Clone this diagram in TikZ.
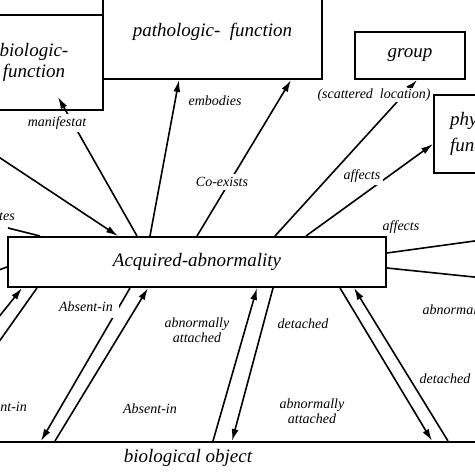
\documentclass[tikz,border=0pt]{standalone}
\usepackage{fontspec}
\setmainfont{Liberation Serif}
\usetikzlibrary{arrows.meta}

\begin{document}
\begin{tikzpicture}[
  x=0.5pt, y=-0.5pt,
  line width=0.8pt,
  box/.style={draw,rectangle,line width=1pt,inner sep=0pt,align=center,
    font=\fontsize{9.5}{10.5}\selectfont\itshape},
  boxtxt/.style={inner sep=0pt,font=\fontsize{9.5}{10.5}\selectfont\itshape},
  lbl/.style={fill=white,inner sep=1.5pt,align=center,
    font=\fontsize{7}{7.5}\selectfont\itshape},
  rel/.style={-{Latex[length=6pt,width=3.5pt]}},
]
\useasboundingbox (0,0) rectangle (474,474);

% ---------- boxes ----------
\node[box,minimum width=69pt,minimum height=27.5pt] (upper) at (34,-12.5) {};
\node[box,minimum width=69pt,minimum height=47.5pt] (bio) at (34,62.5) {biologic-\\function};
\node[box,minimum width=109.5pt,minimum height=47pt] (patho) at (212.5,32) {pathologic-\enspace function};
\node[box,minimum width=55pt,minimum height=23.5pt] (group) at (410,55.5) {group};
\node[box,minimum width=63pt,minimum height=39pt,align=left] (phys) at (497,134) {physiologic-\\[2.5pt]function};
\node[box,minimum width=189pt,minimum height=25pt] (main) at (197,262) {Acquired-abnormality};
\node[box,minimum width=270pt,minimum height=30pt] (obj) at (237,472) {};
\node[boxtxt] (objtxt) at (188,458) {biological object};

% ---------- end points ----------
\coordinate (inA) at (-30,138);
\coordinate (inB) at (8,228);
\coordinate (inC) at (-20,277);
\coordinate (outA) at (500,237.5);
\coordinate (outB) at (500,279.7);
\coordinate (outC) at (-20,340.5);
\coordinate (outD) at (-20,368.6);
\coordinate (mf) at (58,97);

% ---------- into the top of the box ----------
\draw[rel] (inA) -- (118,0 |- main.north);
\draw (inB) -- (40,0 |- main.north);
\draw (inC) -- (0,267 -| main.west);
\draw[rel] (137,0 |- main.north) -- (mf);
\draw[rel] (150,0 |- main.north) -- (179,0 |- patho.south);
\draw[rel] (197,0 |- main.north) -- (291,0 |- patho.south);
\draw[rel] (275,0 |- main.north) -- (417,0 |- group.south);
\draw[rel] (306,0 |- main.north) -- (0,144 -| phys.west);

% ---------- to the right ----------
\draw (0,253 -| main.east) -- (outA);
\draw (0,268 -| main.east) -- (outB);

% ---------- down to the object ----------
\draw[rel] (outC) -- (22,0 |- main.south);
\draw (37,0 |- main.south) -- (outD);
\draw[rel] (130,0 |- main.south) -- (41,0 |- obj.north);
\draw[rel] (55,0 |- obj.north) -- (148,0 |- main.south);
\draw[rel] (213,0 |- obj.north) -- (257,0 |- main.south);
\draw[rel] (273,0 |- main.south) -- (232,0 |- obj.north);
\draw[rel] (340,0 |- main.south) -- (432,0 |- obj.north);
\draw[rel] (448,0 |- obj.north) -- (354,0 |- main.south);

% ---------- labels ----------
\node[lbl] (lTes) at (7,217) {tes};
\node[lbl] (lMan) at (57,123) {manifestat};
\node[lbl] (lEmb) at (215,101) {embodies};
\node[lbl] (lCoe) at (222,182) {Co-exists};
\node[lbl,inner sep=0.5pt] (lSca) at (374,95) {(scattered\enspace location)};
\node[lbl] (lAf1) at (362,176) {affects};
\node[lbl] (lAf2) at (401,227) {affects};
\node[lbl] (lAb1) at (0,407) {Absent-in};
\node[lbl,inner sep=3pt] (lAb2) at (86,307) {Absent-in};
\node[lbl] (lAb3) at (150,409) {Absent-in};
\node[lbl] (lAt1) at (197,330) {abnormally\\attached};
\node[lbl] (lDe1) at (303,324) {detached};
\node[lbl] (lAt2) at (312,411) {abnormally\\attached};
\node[lbl] (lAt3) at (455,311) {abnormally};
\node[lbl] (lDe2) at (445,379) {detached};

\end{tikzpicture}
\end{document}
